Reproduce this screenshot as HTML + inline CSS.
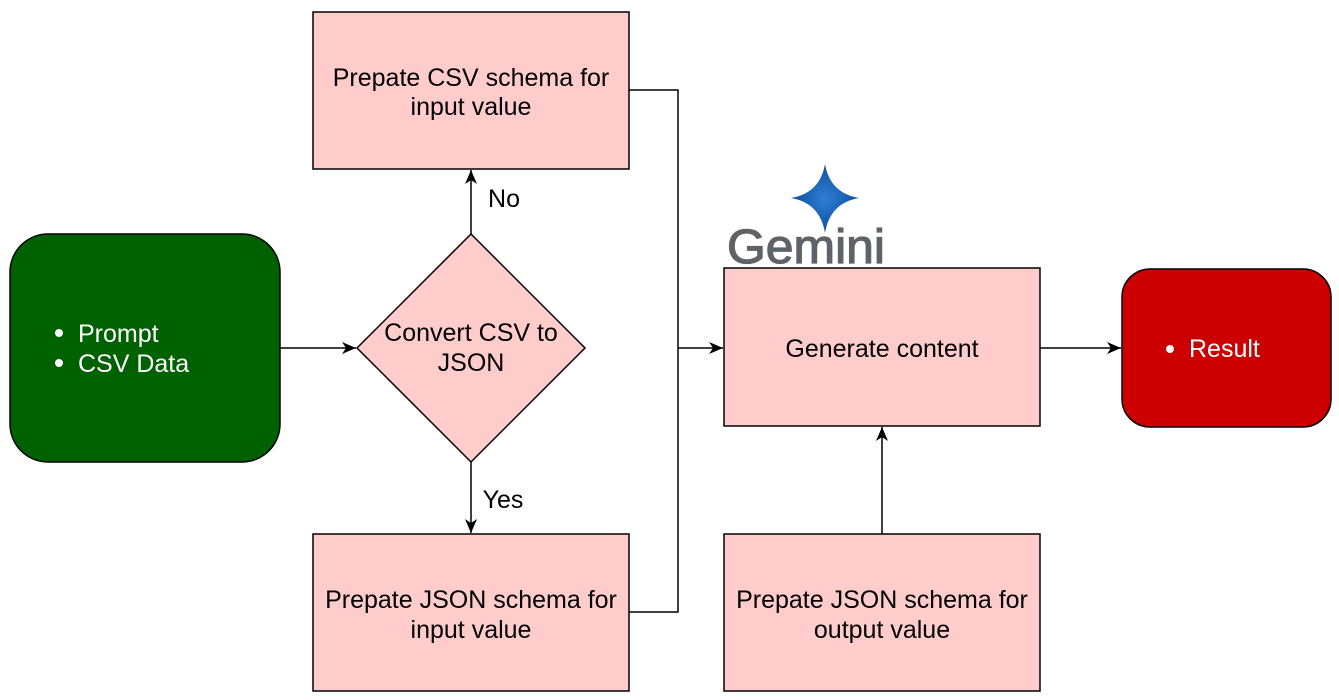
<!DOCTYPE html>
<html><head><meta charset="utf-8"><style>
html,body{margin:0;padding:0;background:#fff;width:1339px;height:700px;overflow:hidden}
text{font-family:"Liberation Sans",Arial,sans-serif}
</style></head><body>
<svg width="1339" height="700" viewBox="0 0 1339 700" xmlns="http://www.w3.org/2000/svg">
<defs>
<marker id="a" markerWidth="16" markerHeight="16" refX="14" refY="7" orient="auto" markerUnits="userSpaceOnUse">
<path d="M0,1 L14,7 L0,13 L4,7 Z" fill="#000"/></marker>
<radialGradient id="g" cx="50%" cy="50%" r="50%"><stop offset="0" stop-color="#2f7fd6"/><stop offset="1" stop-color="#0b4f9c"/></radialGradient>
</defs>
<g stroke="#000" stroke-width="1.5" fill="none">
<line x1="280" y1="348" x2="356" y2="348" marker-end="url(#a)"/>
<line x1="471" y1="234" x2="471" y2="170" marker-end="url(#a)"/>
<line x1="471" y1="462" x2="471" y2="533" marker-end="url(#a)"/>
<polyline points="629,90 678,90 678,612 629,612"/>
<line x1="678" y1="348" x2="723" y2="348" marker-end="url(#a)"/>
<line x1="1040" y1="348" x2="1121" y2="348" marker-end="url(#a)"/>
<line x1="882" y1="534" x2="882" y2="427" marker-end="url(#a)"/>
</g>
<rect x="10" y="234" width="270" height="228" rx="38" fill="#006100" stroke="#000" stroke-width="1.5"/>
<polygon points="471,234 585,348 471,462 357,348" fill="#ffcccc" stroke="#000" stroke-width="1.5"/>
<rect x="313" y="12" width="316" height="157" fill="#ffcccc" stroke="#000" stroke-width="1.5"/>
<rect x="313" y="534" width="316" height="157" fill="#ffcccc" stroke="#000" stroke-width="1.5"/>
<rect x="724" y="268" width="316" height="158" fill="#ffcccc" stroke="#000" stroke-width="1.5"/>
<rect x="724" y="534" width="316" height="157" fill="#ffcccc" stroke="#000" stroke-width="1.5"/>
<rect x="1122" y="269" width="209" height="158" rx="28" fill="#cc0000" stroke="#000" stroke-width="1.5"/>
<path d="M825,164 Q830,193 859,198 Q830,203 825,233 Q820,203 791,198 Q820,193 825,164 Z" fill="url(#g)"/>
<text x="727" y="263" font-size="48" fill="#5f6368" stroke="#5f6368" stroke-width="1.2" textLength="158" lengthAdjust="spacingAndGlyphs">Gemini</text>
<g font-size="25" fill="#000" text-anchor="middle">
<text x="471" y="86">Prepate CSV schema for</text>
<text x="471" y="115">input value</text>
<text x="471" y="608">Prepate JSON schema for</text>
<text x="471" y="638">input value</text>
<text x="882" y="608">Prepate JSON schema for</text>
<text x="882" y="638">output value</text>
<text x="882" y="357">Generate content</text>
<text x="471" y="341">Convert CSV to</text>
<text x="471" y="371">JSON</text>
<text x="504" y="207">No</text>
<text x="503" y="508">Yes</text>
</g>
<g font-size="25" fill="#fff">
<circle cx="59" cy="333" r="4" fill="#fff"/><text x="78" y="342">Prompt</text>
<circle cx="59" cy="363" r="4" fill="#fff"/><text x="78" y="372">CSV Data</text>
<circle cx="1170" cy="349" r="4" fill="#fff"/><text x="1189" y="357">Result</text>
</g>
</svg>
</body></html>
